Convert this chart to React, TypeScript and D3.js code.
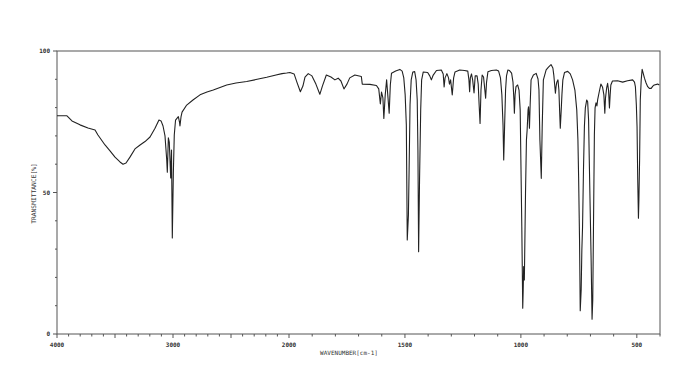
import React from "react";
import * as d3 from "d3";

const wavenumbers: number[] = [
  4000, 3914, 3871, 3802, 3733, 3672, 3647, 3586, 3543, 3500, 3457, 3431, 3405, 3371, 3328, 3284, 3241, 3198, 3155, 3121,
  3103, 3086, 3069, 3054, 3049, 3040, 3032, 3020, 3013, 3006, 2997, 2989, 2978, 2954, 2944, 2940, 2931, 2922, 2882, 2828,
  2767, 2707, 2653, 2595, 2537, 2457, 2365, 2285, 2192, 2112, 2060, 2020, 1996, 1978, 1966, 1951, 1940, 1931, 1917, 1901,
  1884, 1867, 1856, 1839, 1819, 1802, 1788, 1776, 1763, 1750, 1738, 1716, 1688, 1684, 1651, 1623, 1613, 1606, 1601, 1595,
  1591, 1585, 1579, 1574, 1568, 1563, 1558, 1540, 1522, 1512, 1505, 1499, 1494, 1490, 1485, 1482, 1478, 1473, 1466, 1458,
  1452, 1447, 1444, 1441, 1437, 1432, 1428, 1421, 1402, 1393, 1386, 1378, 1364, 1343, 1335, 1331, 1327, 1319, 1312, 1308,
  1303, 1296, 1290, 1284, 1264, 1243, 1229, 1224, 1221, 1218, 1213, 1208, 1202, 1197, 1189, 1184, 1180, 1176, 1172, 1167,
  1161, 1157, 1152, 1148, 1142, 1127, 1106, 1096, 1088, 1082, 1077, 1074, 1070, 1066, 1062, 1056, 1049, 1040, 1034, 1030,
  1028, 1025, 1021, 1014, 1008, 1003, 1000, 996, 992, 990, 988, 985, 980, 976, 973, 969, 967, 965, 963, 960,
  956, 946, 934, 926, 922, 918, 912, 908, 903, 891, 881, 870, 862, 858, 853, 851, 848, 845, 840, 836,
  833, 830, 826, 823, 819, 812, 798, 787, 777, 767, 759, 754, 751, 747, 744, 740, 737, 734, 730, 726,
  722, 716, 712, 708, 705, 701, 697, 693, 690, 687, 683, 680, 676, 672, 669, 662, 655, 648, 642, 638,
  635, 630, 626, 622, 618, 615, 612, 605, 583, 561, 540, 518, 510, 506, 502, 499, 496, 493, 491, 488,
  485, 481, 477, 474, 467, 460, 453, 446, 438, 431, 425, 410, 403,
];

const transmittance: number[] = [
  77.1, 77.1, 75.3, 73.9, 72.8, 72.1, 70.3, 66.8, 64.7, 62.5, 60.8, 60.0, 60.4, 62.5, 65.4, 66.8, 68.0, 69.6, 72.7, 75.6,
  75.3, 73.5, 70.0, 61.5, 57.2, 69.3, 67.8, 55.1, 65.0, 33.9, 56.9, 70.3, 75.6, 76.8, 74.9, 73.5, 76.7, 78.4, 80.9, 82.7,
  84.5, 85.5, 86.2, 87.1, 88.0, 88.7, 89.2, 89.9, 90.7, 91.5, 92.0, 92.2, 92.4, 91.9, 89.0, 85.6, 87.6, 90.8, 92.0, 91.2,
  88.3, 84.7, 87.6, 91.5, 90.8, 89.8, 90.4, 89.4, 86.6, 88.3, 90.5, 91.5, 91.0, 88.3, 88.2, 87.8, 86.6, 81.3, 85.5, 83.4,
  76.2, 84.5, 89.8, 84.5, 78.0, 88.0, 92.1, 92.9, 93.5, 92.9, 90.5, 84.5, 73.9, 33.2, 42.0, 58.0, 80.9, 89.8, 92.6, 92.7,
  89.8, 82.7, 65.0, 29.1, 54.4, 79.2, 89.8, 92.6, 92.4, 91.2, 89.8, 91.5, 93.1, 93.3, 91.9, 87.3, 90.5, 92.0, 90.5, 88.3,
  89.8, 84.5, 90.5, 92.6, 93.3, 93.1, 92.9, 89.8, 85.6, 90.5, 91.9, 89.8, 85.2, 91.2, 91.2, 88.3, 80.9, 74.4, 86.2, 91.5,
  90.8, 87.6, 83.3, 89.0, 92.7, 93.1, 93.3, 92.9, 90.5, 84.5, 73.9, 61.5, 73.9, 86.2, 91.2, 93.3, 93.1, 92.2, 89.0, 82.7,
  78.0, 84.5, 87.4, 88.0, 86.2, 79.2, 61.5, 37.9, 9.1, 15.5, 23.8, 19.1, 49.7, 68.6, 72.1, 79.2, 80.3, 77.4, 72.7, 80.9,
  89.8, 91.5, 92.1, 90.1, 86.2, 68.6, 55.0, 73.3, 89.8, 93.3, 94.3, 95.2, 94.0, 91.5, 86.9, 85.1, 87.6, 89.0, 89.8, 86.2,
  79.2, 72.7, 79.2, 84.5, 89.8, 92.4, 92.8, 91.9, 89.8, 86.2, 79.2, 68.6, 55.6, 33.2, 8.2, 15.5, 29.7, 37.9, 58.0, 73.3,
  79.9, 82.7, 82.1, 75.6, 61.5, 43.8, 26.1, 5.2, 12.0, 36.7, 70.3, 79.9, 81.7, 80.6, 82.7, 85.6, 88.3, 87.3, 84.5, 78.0,
  83.4, 87.0, 88.6, 86.2, 79.9, 84.5, 88.0, 89.4, 89.5, 89.0, 89.5, 89.8, 89.0, 87.3, 80.9, 73.3, 54.4, 40.9, 47.3, 61.5,
  82.7, 89.8, 93.5, 92.6, 90.4, 88.7, 87.4, 86.8, 86.8, 87.6, 88.0, 88.3, 88.0,
];

const xLabelTicks: number[] = [4000, 3000, 2000, 1500, 1000, 500];
const yLabelTicks: number[] = [0, 50, 100];
const xTitle = "WAVENUMBER[cm-1]";
const yTitle = "TRANSMITTANCE[%]";

export default function App() {
  const W = 700;
  const H = 385;
  const left = 57;
  const right = 660;
  const top = 51;
  const bottom = 334;

  const x = d3.scaleLinear().domain([4000, 2000, 400]).range([left, 289, right]);
  const y = d3.scaleLinear().domain([0, 100]).range([bottom, top]);

  const pts = wavenumbers.map((w, i) => [w, transmittance[i]] as [number, number]);
  const line = d3
    .line<[number, number]>()
    .x((d) => x(d[0]))
    .y((d) => y(d[1]));

  const xMinor = d3.range(4000, 399, -100);
  const yMinor = d3.range(0, 101, 10);
  const axisColor = "#555";
  const font = "'DejaVu Sans Mono', monospace";

  return (
    <div style={{ position: "absolute", left: 0, top: 0 }}>
      <svg width={W} height={H} style={{ display: "block", background: "#fff" }}>
        <rect x={left} y={top} width={right - left} height={bottom - top} fill="none" stroke={axisColor} strokeWidth={1} />
        {xMinor.map((t) => {
          const major = t % 500 === 0;
          return (
            <line key={"xt" + t} x1={x(t)} x2={x(t)} y1={bottom} y2={bottom + (major ? 4 : 2.5)} stroke={axisColor} strokeWidth={1} />
          );
        })}
        {yMinor.map((t) => {
          const major = t % 50 === 0;
          return (
            <line key={"yt" + t} x1={left - (major ? 4 : 2)} x2={left} y1={y(t)} y2={y(t)} stroke={axisColor} strokeWidth={1} />
          );
        })}
        {xLabelTicks.map((t) => (
          <text key={"xl" + t} x={x(t)} y={bottom + 13} textAnchor="middle" fontFamily={font} fontSize={6} fontWeight="bold" fill="#333">
            {t}
          </text>
        ))}
        {yLabelTicks.map((t) => (
          <text key={"yl" + t} x={left - 7} y={y(t) + 2} textAnchor="end" fontFamily={font} fontSize={6} fontWeight="bold" fill="#333">
            {t}
          </text>
        ))}
        <text x={349} y={bottom + 21} textAnchor="middle" fontFamily={font} fontSize={6} fill="#333">
          {xTitle}
        </text>
        <text
          transform={`translate(36, ${(top + bottom) / 2 + 1}) rotate(-90)`}
          textAnchor="middle"
          fontFamily={font}
          fontSize={6.3}
          fill="#333"
        >
          {yTitle}
        </text>
        <path d={line(pts) || ""} fill="none" stroke="#222" strokeWidth={1.1} strokeLinejoin="round" />
      </svg>
    </div>
  );
}
